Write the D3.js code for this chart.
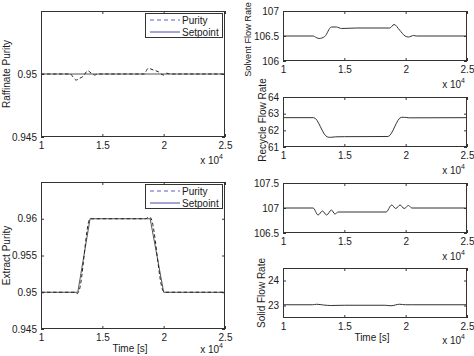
<!DOCTYPE html>
<html><head><meta charset="utf-8">
<script src="https://cdn.jsdelivr.net/npm/d3@7/dist/d3.min.js"></script>
<style>
body{margin:0;background:#fff}
svg{display:block}
text{font-family:"Liberation Sans",Arial,Helvetica,sans-serif;fill:#1a1a1a}
</style>
</head><body>
<svg id="c" width="474" height="356"></svg>
<script>
// ---- data ----
const xTicks = [10000, 15000, 20000, 25000];
const xTickLabels = ["1", "1.5", "2", "2.5"];

const raffTime = [10000, 12400, 12590, 12870, 13140, 13410, 13820, 14100, 14370, 14640, 18400, 18740, 19150, 19560, 19970, 20250, 20520, 25000];
const raffPurity = [0.95, 0.95, 0.94979, 0.94952, 0.94966, 0.94979, 0.95026, 0.95006, 0.94992, 0.95, 0.95, 0.95045, 0.95032, 0.95018, 0.94992, 0.95006, 0.95, 0.95];
const raffSetTime = [10000, 25000];
const raffSetpoint = [0.95, 0.95];

const extSetTime = [10000, 13000, 14000, 18900, 20000, 25000];
const extSetpoint = [0.95, 0.95, 0.96, 0.96, 0.95, 0.95];
const extTime = [10000, 12800, 12950, 13100, 14000, 18550, 18780, 18950, 19950, 20100, 25000];
const extPurity = [0.95, 0.95, 0.9498, 0.9502, 0.96, 0.96, 0.96025, 0.9601, 0.9502, 0.95, 0.95];

const solventTime = [10000, 12450, 12700, 12950, 13400, 13950, 14350, 14780, 16000, 18700, 19050, 19500, 19950, 20230, 20640, 20900, 25000];
const solventRate = [106.5, 106.5, 106.47, 106.45, 106.49, 106.68, 106.68, 106.65, 106.66, 106.66, 106.73, 106.62, 106.5, 106.48, 106.51, 106.5, 106.5];

const recycleTime = [10000, 12500, 13600, 13850, 14300, 15000, 18550, 19650, 19900, 20300, 25000];
const recycleRate = [62.76, 62.76, 61.61, 61.58, 61.61, 61.62, 61.63, 62.78, 62.78, 62.75, 62.76];

const flow3Time = [10000, 12450, 12860, 13220, 13550, 13955, 14230, 14500, 18400, 18865, 19190, 19545, 19875, 20230, 20500, 25000];
const flow3Rate = [107, 107, 106.86, 106.94, 106.86, 106.96, 106.88, 106.92, 106.92, 107.06, 106.99, 107.06, 106.99, 107.05, 107, 107];

const solidTime = [10000, 12400, 12750, 13300, 13900, 15000, 18300, 18800, 19500, 20000, 20500, 25000];
const solidRate = [23.03, 23.03, 23.05, 23.02, 23.0, 23.01, 23.01, 22.99, 23.05, 23.03, 23.03, 23.03];

const legendLabels = ["Purity", "Setpoint"];

// ---- layout ----
const zip = (a, b) => a.map((v, i) => [v, b[i]]);
const panels = [
  {x0:41, x1:225, y0:11, y1:137, dom:[0.945,0.955], yt:[0.945,0.95], ytl:["0.945","0.95"], ylab:"Raffinate Purity", ylx:6, lfs:10, lcy:74,
   series:[{d:zip(raffSetTime,raffSetpoint), c:"#555", dash:null, curve:d3.curveLinear},
           {d:zip(raffTime,raffPurity), c:"#222", dash:"3.5,2.5", curve:d3.curveMonotoneX}], legend:true, mOff:27},
  {x0:41, x1:225, y0:182, y1:329, dom:[0.945,0.965], yt:[0.945,0.95,0.955,0.96], ytl:["0.945","0.95","0.955","0.96"], ylab:"Extract Purity", ylx:6, lfs:10, lcy:255.5, xlab:true,
   series:[{d:zip(extSetTime,extSetpoint), c:"#555", dash:null, curve:d3.curveLinear},
           {d:zip(extTime,extPurity), c:"#222", dash:"3.5,2.5", curve:d3.curveMonotoneX}], legend:true, mOff:24},
  {x0:283, x1:467, y0:11, y1:61, dom:[106,107], yt:[106,106.5,107], ytl:["106","106.5","107"], ylab:"Solvent Flow Rate", ylx:248, lfs:9.2, lcy:39.5,
   series:[{d:zip(solventTime,solventRate), c:"#333", dash:null, curve:d3.curveMonotoneX}], mOff:27},
  {x0:283, x1:467, y0:97, y1:147, dom:[61,64], yt:[61,62,63,64], ytl:["61","62","63","64"], ylab:"Recycle Flow Rate", ylx:262, lfs:10, lcy:120,
   series:[{d:zip(recycleTime,recycleRate), c:"#333", dash:null, curve:d3.curveMonotoneX}], mOff:27},
  {x0:283, x1:467, y0:183, y1:233, dom:[106.5,107.5], yt:[106.5,107,107.5], ytl:["106.5","107","107.5"], ylab:null,
   series:[{d:zip(flow3Time,flow3Rate), c:"#333", dash:null, curve:d3.curveMonotoneX}], mOff:27},
  {x0:283, x1:467, y0:268, y1:318, dom:[22.5,24.5], yt:[23,24], ytl:["23","24"], ylab:"Solid Flow Rate", ylx:261, lfs:10, lcy:293, xlab:true,
   series:[{d:zip(solidTime,solidRate), c:"#333", dash:null, curve:d3.curveMonotoneX}], mOff:26}
];

const svg = d3.select("#c");
const FS = 10;

panels.forEach(p => {
  const x = d3.scaleLinear().domain([10000, 25000]).range([p.x0, p.x1]);
  const y = d3.scaleLinear().domain(p.dom).range([p.y1, p.y0]);
  const g = svg.append("g");

  // plot lines
  const clipId = "clip" + p.x0 + "_" + p.y0;
  g.append("clipPath").attr("id", clipId).append("rect")
    .attr("x", p.x0).attr("y", p.y0).attr("width", p.x1 - p.x0).attr("height", p.y1 - p.y0);
  p.series.forEach(s => {
    g.append("path").datum(s.d)
      .attr("clip-path", `url(#${clipId})`)
      .attr("d", d3.line().x(d => x(d[0])).y(d => y(d[1])).curve(s.curve))
      .attr("fill", "none").attr("stroke", s.c).attr("stroke-width", 1)
      .attr("stroke-dasharray", s.dash);
  });

  // axes with inner ticks (MATLAB style)
  const tl = 3;
  const bx = d3.axisBottom(x).tickValues(xTicks).tickFormat((d, i) => xTickLabels[i]).tickSizeInner(-tl).tickSizeOuter(0).tickPadding(5);
  const gx = g.append("g").attr("transform", `translate(0,${p.y1})`).call(bx);
  const tx = d3.axisTop(x).tickValues(xTicks).tickFormat("").tickSizeInner(-tl).tickSizeOuter(0);
  const gtx = g.append("g").attr("transform", `translate(0,${p.y0})`).call(tx);
  const ly = d3.axisLeft(y).tickValues(p.yt).tickFormat((d, i) => p.ytl[i]).tickSizeInner(-tl).tickSizeOuter(0).tickPadding(4);
  const gy = g.append("g").attr("transform", `translate(${p.x0},0)`).call(ly);
  const ry = d3.axisRight(y).tickValues(p.yt).tickFormat("").tickSizeInner(-tl).tickSizeOuter(0);
  const gry = g.append("g").attr("transform", `translate(${p.x1},0)`).call(ry);
  [gx, gtx, gy, gry].forEach(a => {
    a.select(".domain").remove();
    a.selectAll("line").attr("stroke", "#333");
    a.selectAll("text").attr("font-size", FS).attr("fill", "#1a1a1a")
      .attr("font-family", '"Liberation Sans",Arial,sans-serif');
  });
  gx.selectAll("text").attr("dy", "0.71em").attr("y", 5);

  // box
  g.append("rect").attr("x", p.x0 + 0.5).attr("y", p.y0 + 0.5)
    .attr("width", p.x1 - p.x0 - 1).attr("height", p.y1 - p.y0 - 1)
    .attr("fill", "none").attr("stroke", "#333").attr("stroke-width", 1);

  // x 10^4 multiplier
  const mt = g.append("text").attr("x", p.x1 - 2).attr("y", p.y1 + p.mOff)
    .attr("text-anchor", "end").attr("font-size", FS);
  mt.append("tspan").text("x 10");
  mt.append("tspan").attr("font-size", 7).attr("dy", -5).text("4");

  // y label
  if (p.ylab) {
    g.append("text").attr("transform", `translate(${p.ylx},${p.lcy}) rotate(-90)`)
      .attr("text-anchor", "middle").attr("dominant-baseline", "central")
      .attr("font-size", p.lfs).text(p.ylab);
  }
  // x label
  if (p.xlab) {
    g.append("text").attr("x", (p.x0 + p.x1) / 2 - 3).attr("y", p.y1 + 23)
      .attr("text-anchor", "middle").attr("font-size", FS).text("Time [s]");
  }

  // legend
  if (p.legend) {
    const lx0 = p.x1 - 80, ly0 = p.y0 + 2;
    const lg = g.append("g");
    lg.append("rect").attr("x", lx0 + 0.5).attr("y", ly0 + 0.5).attr("width", 77).attr("height", 24)
      .attr("fill", "#fff").attr("stroke", "#333").attr("stroke-width", 1);
    const styles = [{c:"#5b5bd6", dash:"4,3"}, {c:"#4a4aa6", dash:null}];
    legendLabels.forEach((lab, i) => {
      const yy = ly0 + 7 + i * 12;
      lg.append("line").attr("x1", lx0 + 5).attr("x2", lx0 + 35).attr("y1", yy).attr("y2", yy)
        .attr("stroke", styles[i].c).attr("stroke-width", 1).attr("stroke-dasharray", styles[i].dash);
      lg.append("text").attr("x", lx0 + 37).attr("y", yy).attr("dominant-baseline", "central")
        .attr("font-size", FS).text(lab);
    });
  }
});
</script>
</body></html>
